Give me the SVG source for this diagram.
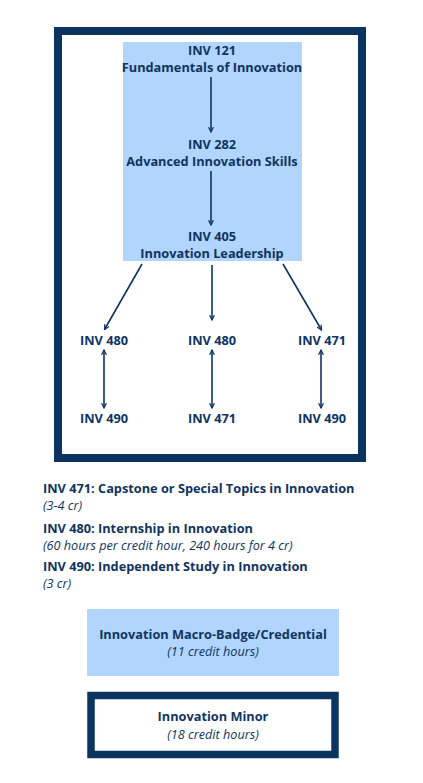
<svg xmlns="http://www.w3.org/2000/svg" width="423" height="783" viewBox="0 0 423 783">
<defs>
<style>
text{font-family:"Open Sans","Noto Sans","Liberation Sans",sans-serif;fill:#0f3461;text-anchor:middle}
.b{font-weight:700;font-size:12.75px}
.i{font-style:italic;font-size:12.65px}
.l{text-anchor:start}
.c{stroke:#0f3461;stroke-width:1.6;fill:none}
</style>
<marker id="ah" viewBox="0 0 10 10" refX="9" refY="5" markerWidth="6" markerHeight="6" markerUnits="userSpaceOnUse" orient="auto-start-reverse">
<path d="M1,1 L9,5 L1,9" fill="none" stroke="#0f3461" stroke-width="2"/>
</marker>
</defs>
<rect width="423" height="783" fill="#ffffff"/>
<g id="frame"><rect x="58" y="31" width="304" height="427" fill="none" stroke="#0c3461" stroke-width="8"/></g>
<g id="core"><rect x="123" y="42" width="179" height="219" fill="#b1d5fc"/></g>
<g id="inv121"><text class="b" x="212" y="55">INV 121</text><text class="b" x="212" y="72">Fundamentals of Innovation</text></g>
<g id="inv282"><text class="b" x="212" y="149">INV 282</text><text class="b" x="212" y="166">Advanced Innovation Skills</text></g>
<g id="inv405"><text class="b" x="212" y="241">INV 405</text><text class="b" x="212" y="257.5">Innovation Leadership</text></g>
<g id="l480"><text class="b" x="104" y="345">INV 480</text></g>
<g id="m480"><text class="b" x="212" y="345">INV 480</text></g>
<g id="r471"><text class="b" x="322" y="345">INV 471</text></g>
<g id="l490"><text class="b" x="104" y="423">INV 490</text></g>
<g id="m471"><text class="b" x="212" y="423">INV 471</text></g>
<g id="r490"><text class="b" x="322" y="423">INV 490</text></g>
<g id="connectors">
<line class="c" x1="211" y1="77" x2="211" y2="132" marker-end="url(#ah)"/>
<line class="c" x1="211" y1="171" x2="211" y2="225" marker-end="url(#ah)"/>
<line class="c" x1="142" y1="264" x2="104.5" y2="329.5" marker-end="url(#ah)"/>
<line class="c" x1="212" y1="265" x2="212" y2="320" marker-end="url(#ah)"/>
<line class="c" x1="283" y1="264" x2="321.5" y2="330" marker-end="url(#ah)"/>
<line class="c" x1="104" y1="350" x2="104" y2="408" marker-start="url(#ah)" marker-end="url(#ah)"/>
<line class="c" x1="212" y1="350" x2="212" y2="408" marker-start="url(#ah)" marker-end="url(#ah)"/>
<line class="c" x1="321" y1="350" x2="321" y2="408" marker-start="url(#ah)" marker-end="url(#ah)"/>
</g>
<g id="legend">
<text class="b l" x="43" y="493">INV 471: Capstone or Special Topics in Innovation</text>
<text class="i l" x="43" y="510">(3-4 cr)</text>
<text class="b l" x="43" y="532.5">INV 480: Internship in Innovation</text>
<text class="i l" x="43" y="549.5">(60 hours per credit hour, 240 hours for 4 cr)</text>
<text class="b l" x="43" y="571">INV 490: Independent Study in Innovation</text>
<text class="i l" x="43" y="587.5">(3 cr)</text>
</g>
<g id="badge">
<rect x="87" y="609" width="252" height="67" fill="#b1d5fc"/>
<text class="b" x="213" y="638.5">Innovation Macro-Badge/Credential</text>
<text class="i" x="213" y="656">(11 credit hours)</text>
</g>
<g id="minor">
<rect x="91" y="695.5" width="244" height="59" fill="#ffffff" stroke="#0c3461" stroke-width="7.5"/>
<text class="b" x="213" y="721">Innovation Minor</text>
<text class="i" x="213" y="738.5">(18 credit hours)</text>
</g>
</svg>
